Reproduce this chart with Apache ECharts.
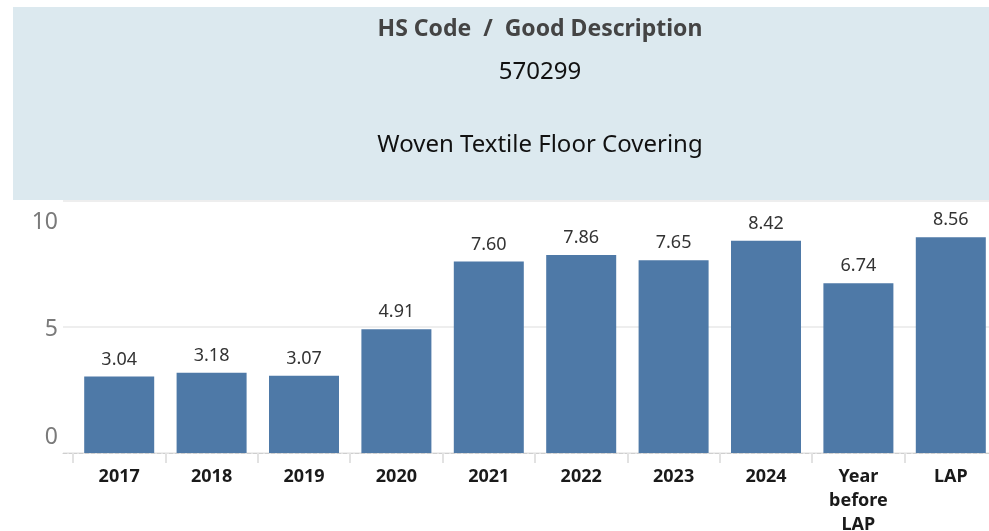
<!DOCTYPE html>
<html>
<head>
<meta charset="utf-8">
<script src="https://cdn.jsdelivr.net/npm/echarts@6/dist/echarts.min.js"></script>
<style>
html, body { margin: 0; padding: 0; background: #fff; }
#main { width: 989px; height: 531px; }
</style>
</head>
<body>
<div id="main"></div>
<script>
// chart data
var categories = ['2017', '2018', '2019', '2020', '2021', '2022', '2023', '2024', 'Year\nbefore\nLAP', 'LAP']
var values = [3.04, 3.18, 3.07, 4.91, 7.60, 7.86, 7.65, 8.42, 6.74, 8.56]
var headerTitle = 'HS Code  /  Good Description'
var hsCode = '570299'
var goodDesc = 'Woven Textile Floor Covering'

var font = 'Noto Sans'
var myChart = echarts.init(document.getElementById('main'))

var option = {
	animation: false,
	textStyle: { fontFamily: font },
	graphic: [
		{
			type: 'rect',
			shape: { x: 13, y: 7, width: 1000, height: 193 },
			style: { fill: '#dce9ef' },
			z: -1
		}
	],
	title: [
		{
			text: headerTitle,
			left: 535, top: 13, textAlign: 'center',
			textStyle: { fontSize: 23, fontWeight: 'bold', color: '#444', fontFamily: font }
		},
		{
			text: hsCode,
			left: 535, top: 55, textAlign: 'center',
			textStyle: { fontSize: 24, fontWeight: 'normal', color: '#111', fontFamily: font }
		},
		{
			text: goodDesc,
			left: 535, top: 128, textAlign: 'center',
			textStyle: { fontSize: 24, fontWeight: 'normal', color: '#111', fontFamily: font }
		}
	],
	grid: [
		// bars
		{ left: 73, top: 201, width: 924, height: 252, outerBoundsMode: 'none' },
		// y axis labels (Tableau places them offset from the lines)
		{ left: 63, top: 222, width: 11, height: 215, outerBoundsMode: 'none' },
		// gridline stub left of the first band
		{ left: 63, top: 201, width: 11, height: 252, outerBoundsMode: 'none' }
	],
	xAxis: [
		{
			type: 'category',
			gridIndex: 0,
			data: categories,
			axisLine: { show: true, lineStyle: { color: '#cfcfcf', type: 'dashed', width: 1 } },
			axisTick: { show: true, length: 10, lineStyle: { color: '#e2e2e2', width: 2 } },
			axisLabel: {
				color: '#1a1a1a', fontSize: 18, fontWeight: 'bold', lineHeight: 24,
				margin: 12, interval: 0, fontFamily: font
			}
		},
		{ type: 'category', gridIndex: 1, show: false, data: [''] },
		{
			type: 'category', gridIndex: 2, data: [''],
			axisLine: { show: true, lineStyle: { color: '#cfcfcf', type: 'dashed', width: 1 } },
			axisTick: { show: false },
			axisLabel: { show: false }
		}
	],
	yAxis: [
		{
			type: 'value', gridIndex: 0, min: 0, max: 10, interval: 5,
			axisLine: { show: false }, axisTick: { show: false },
			axisLabel: { show: false },
			splitLine: { show: true, lineStyle: { color: '#eeeeee', width: 2 } }
		},
		{
			type: 'value', gridIndex: 1, min: 0, max: 10, interval: 5,
			axisLine: { show: false }, axisTick: { show: false },
			splitLine: { show: false },
			axisLabel: { color: '#7a7a7a', fontSize: 23, margin: 5, fontFamily: font }
		},
		{
			type: 'value', gridIndex: 2, min: 0, max: 10, interval: 5,
			axisLine: { show: false }, axisTick: { show: false },
			axisLabel: { show: false },
			splitLine: { show: true, lineStyle: { color: '#eeeeee', width: 2 } }
		}
	],
	series: [
		{
			type: 'bar',
			xAxisIndex: 0,
			yAxisIndex: 0,
			data: values,
			barWidth: 70,
			itemStyle: { color: '#4e79a7' },
			label: {
				show: true,
				position: 'top',
				distance: 8,
				fontSize: 18,
				color: '#333',
				fontFamily: font,
				formatter: function (p) {
					return p.value.toFixed(2)
				}
			}
		}
	]
}

myChart.setOption(option)
</script>
</body>
</html>
